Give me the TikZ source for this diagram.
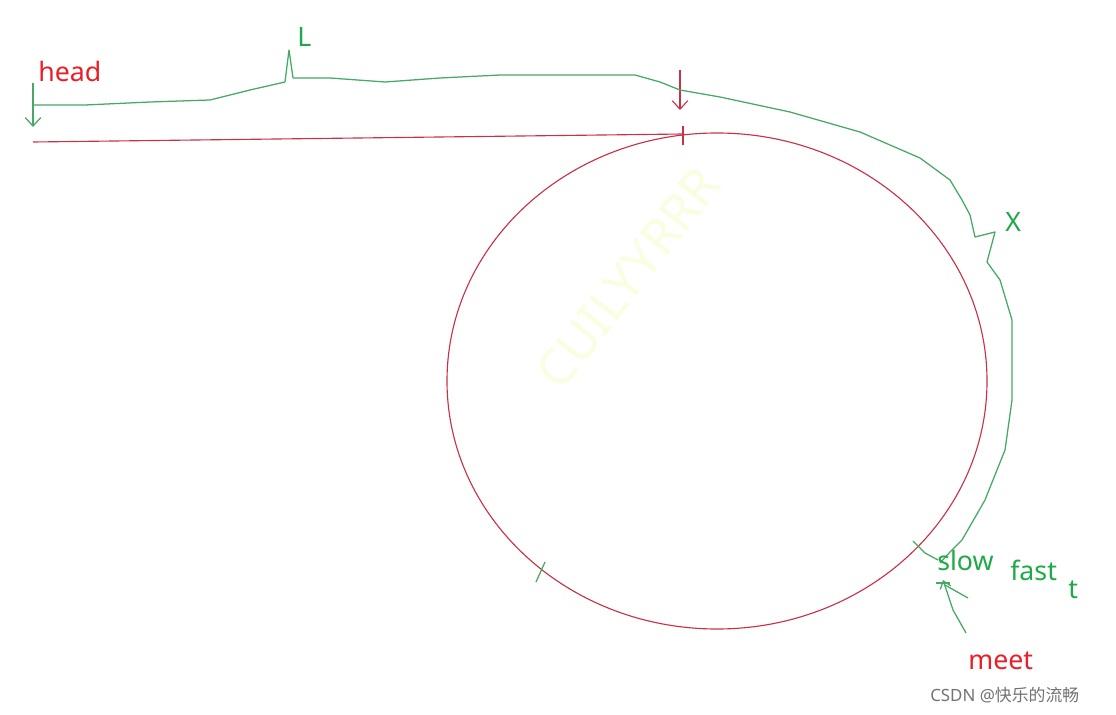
\documentclass[tikz,border=0pt]{standalone}
\usepackage{fontspec}
\setmainfont{Noto Sans}
\newfontfamily\cjkfont{Noto Sans CJK SC}
\usetikzlibrary{arrows.meta}
\definecolor{lgreen}{RGB}{70,170,100}
\definecolor{tgreen}{RGB}{30,170,70}
\definecolor{lred}{RGB}{200,50,70}
\definecolor{tred}{RGB}{235,30,40}
\definecolor{wmark}{RGB}{248,255,225}
\tikzset{
  gline/.style={draw=lgreen, line width=0.9pt, line join=round},
  rline/.style={draw=lred, line width=0.8pt},
  glabel/.style={text=tgreen, font=\fontsize{19}{22}\selectfont, inner sep=0pt},
  rlabel/.style={text=tred, font=\fontsize{19}{22}\selectfont, inner sep=0pt},
  openv/.style={-{Straight Barb[length=6pt,width=11pt]}},
}
\begin{document}
\begin{tikzpicture}[x=0.025cm,y=-0.025cm]
\useasboundingbox[fill=white] (0,0) rectangle (1116,715);
% watermark
\node[text=wmark, rotate=52, font=\fontsize{36}{38}\selectfont] (wm) at (628,278) {CUILYYRRR};
% red cycle and tail
\coordinate (c) at (717,381);
\draw[rline] (c) ellipse [x radius=270, y radius=248];
\coordinate (tailstart) at (33,142);
\coordinate (entry) at (683,134);
\draw[rline] (tailstart) -- (entry);
\draw[rline] (683,126) -- (683,145);
\coordinate (rarrA) at (680,70);
\coordinate (rarrB) at (680,110);
\draw[rline, openv] (rarrA) -- (rarrB);
% green tick on circle
\draw[gline] (536,582) -- (545,562);
% green path
\coordinate (hA) at (33,83);
\coordinate (hB) at (33,127);
\draw[gline, openv] (hA) -- (hB);
\draw[gline] (34,105) -- (85,105) -- (150,102) -- (210,100) -- (250,90) -- (285,82)
  -- (289,50) -- (293,78) -- (330,78) -- (385,82) -- (440,78) -- (500,75) -- (635,75)
  -- (660,82) -- (680,90) -- (720,97) -- (790,112) -- (860,132) -- (920,158) -- (950,180)
  -- (962,200) -- (970,215) -- (975,237) -- (995,232) -- (987,262) -- (1000,280)
  -- (1012,320) -- (1012,400) -- (1005,450) -- (985,500) -- (962,540) -- (950,552) -- (940,563);
\draw[gline] (913,541) -- (925,553) -- (938,560);
% meet arrow
\coordinate (mA) at (966,633);
\coordinate (mB) at (943,580);
\draw[gline, -{Straight Barb[length=5pt,width=8pt]}] (mA) -- (953,610) -- (mB);
\draw[gline] (968,598) -- (945,585);
\draw[gline] (936,583) -- (950,583);
% labels
\node[rlabel, anchor=west] (head) at (38,71) {head};
\node[glabel, anchor=west] (L) at (297,37) {L};
\node[glabel, anchor=west] (X) at (1005,222) {X};
\node[glabel, anchor=west] (slow) at (937,560) {slow};
\node[glabel, anchor=west] (fast) at (1010,570) {fast};
\node[glabel, anchor=west] (t) at (1068,590) {t};
\node[rlabel, anchor=west] (meet) at (968,661) {meet};
\node[text=black!55, anchor=west, inner sep=0pt, font=\fontsize{12}{14}\selectfont] (csdn) at (930,695) {CSDN @{\cjkfont 快乐的流畅}};
\end{tikzpicture}
\end{document}
